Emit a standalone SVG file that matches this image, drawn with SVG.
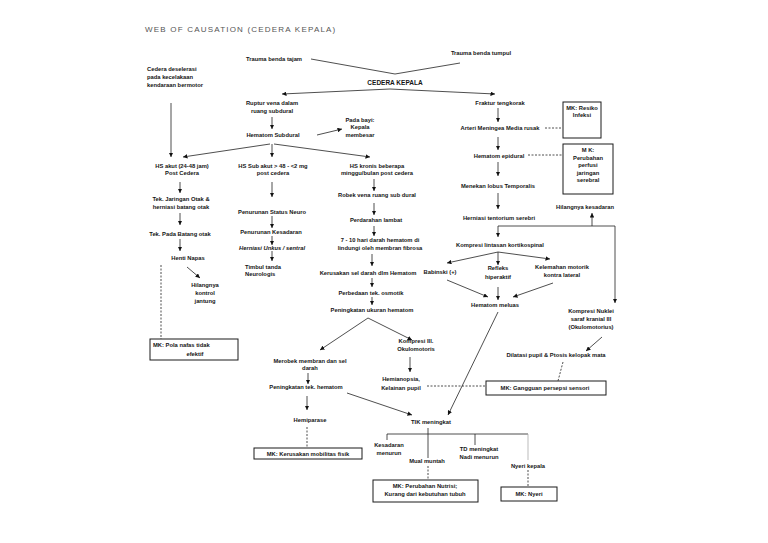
<svg xmlns="http://www.w3.org/2000/svg" width="768" height="543" viewBox="0 0 768 543">
<defs>
<marker id="ah" viewBox="0 0 6 6" refX="6" refY="3" markerWidth="4.5" markerHeight="4.5" markerUnits="userSpaceOnUse" orient="auto"><path d="M0,0 L6,3 L0,6 z" fill="#111"/></marker>
</defs>
<style>
text{font-family:"Liberation Sans",Arial,sans-serif;font-size:5.8px;font-weight:bold;fill:#151515;text-anchor:middle}
.title{font-size:8px;font-weight:normal;fill:#555;text-anchor:start;letter-spacing:1.2px}
.s{text-anchor:start}
.big{font-size:6.5px}
.it{font-style:italic}
.box{fill:#fff;stroke:#1a1a1a;stroke-width:1}
#connectors line,#connectors path,#connectors polyline{stroke:#222;stroke-width:0.8;fill:none}
#connectors .a{marker-end:url(#ah)}
#connectors .d{stroke-dasharray:2 1.5}
#connectors .g{stroke:#aaa}
</style>
<rect width="768" height="543" fill="#fff"/>
<text class="title" x="145" y="32">WEB OF CAUSATION (CEDERA KEPALA)</text>

<g id="connectors">
<polyline points="311,59 395,74 460,63"/>
<line class="a" x1="390" y1="89" x2="282" y2="94"/>
<line class="a" x1="390" y1="89" x2="495" y2="94"/>
<line class="a" x1="171" y1="103" x2="171" y2="157"/>
<line class="a" x1="272" y1="117" x2="272" y2="129"/>
<line class="a" x1="317" y1="135" x2="342" y2="129"/>
<line class="a" x1="270" y1="144" x2="183" y2="157"/>
<line class="a" x1="272" y1="144" x2="272" y2="157"/>
<line class="a" x1="274" y1="144" x2="370" y2="157"/>
<line class="a" x1="180" y1="182" x2="180" y2="193"/>
<line class="a" x1="180" y1="213" x2="180" y2="225"/>
<line class="a" x1="180" y1="239" x2="180" y2="251"/>
<line class="d" x1="161" y1="265" x2="161" y2="339"/>
<line class="a" x1="187" y1="267" x2="200" y2="278"/>
<line class="a" x1="272" y1="182" x2="272" y2="197"/>
<line class="a" x1="272" y1="216" x2="272" y2="228"/>
<line class="a" x1="272" y1="236" x2="272" y2="245"/>
<line class="a" x1="272" y1="251" x2="272" y2="261"/>
<line class="a" x1="374" y1="179" x2="374" y2="191"/>
<line class="a" x1="374" y1="203" x2="374" y2="215"/>
<line class="a" x1="374" y1="226" x2="374" y2="236"/>
<line class="a" x1="372" y1="254" x2="372" y2="266"/>
<line class="a" x1="372" y1="278" x2="372" y2="287"/>
<line class="a" x1="372" y1="297" x2="372" y2="305"/>
<line class="a" x1="368" y1="318" x2="320" y2="350"/>
<line class="a" x1="368" y1="318" x2="412" y2="340"/>
<line class="a" x1="308" y1="373" x2="308" y2="384"/>
<line class="a" x1="307" y1="396" x2="307" y2="410"/>
<line class="d" x1="307" y1="427" x2="307" y2="448"/>
<line class="a" x1="347" y1="393" x2="412" y2="415"/>
<line class="a" x1="410" y1="357" x2="410" y2="372"/>
<line class="d" x1="427" y1="386" x2="486" y2="386"/>
<line class="a" x1="498" y1="312" x2="448" y2="415"/>
<line class="a" x1="498" y1="108" x2="498" y2="122"/>
<line class="d" x1="545" y1="128" x2="562" y2="128"/>
<line class="a" x1="498" y1="137" x2="498" y2="150"/>
<line class="d" x1="528" y1="155" x2="562" y2="155"/>
<line class="a" x1="498" y1="162" x2="498" y2="176"/>
<line class="a" x1="498" y1="193" x2="498" y2="209"/>
<line class="a" x1="498" y1="226" x2="498" y2="237"/>
<path class="a" d="M498,226 L615,226 L615,303"/>
<line class="a" x1="592" y1="226" x2="592" y2="213"/>
<line class="a" x1="498" y1="252" x2="447" y2="263"/>
<line class="a" x1="498" y1="252" x2="498" y2="265"/>
<line class="a" x1="498" y1="252" x2="550" y2="259"/>
<line class="a" x1="447" y1="280" x2="488" y2="297"/>
<line class="a" x1="498" y1="287" x2="498" y2="300"/>
<line class="a" x1="553" y1="283" x2="513" y2="297"/>
<line class="a" x1="602" y1="337" x2="586" y2="351"/>
<line class="d" x1="563" y1="362" x2="558" y2="381"/>
<line x1="428" y1="428" x2="428" y2="458"/>
<line class="d" x1="428" y1="466" x2="428" y2="480"/>
<line x1="387" y1="434" x2="528" y2="434"/>
<line x1="387" y1="434" x2="387" y2="440"/>
<line x1="475" y1="434" x2="475" y2="445"/>
<line class="g" x1="528" y1="434" x2="528" y2="460"/>
<line class="d" x1="528" y1="470" x2="528" y2="487"/>
</g>

<g id="trauma-tajam"><text x="274" y="61">Trauma benda tajam</text></g>
<g id="trauma-tumpul"><text x="481" y="55">Trauma benda tumpul</text></g>
<g id="cedera-kepala"><text class="big" x="395" y="85">CEDERA KEPALA</text></g>
<g id="cedera-deselerasi"><text class="s" x="147" y="71">Cedera deselerasi</text><text class="s" x="147" y="79">pada kecelakaan</text><text class="s" x="147" y="87">kendaraan bermotor</text></g>
<g id="ruptur-vena"><text x="272" y="105">Ruptur vena dalam</text><text x="272" y="113">ruang subdural</text></g>
<g id="hematom-subdural"><text x="273" y="137">Hematom Subdural</text></g>
<g id="pada-bayi"><text x="360" y="122">Pada bayi:</text><text x="360" y="129">Kepala</text><text x="360" y="137">membesar</text></g>

<g id="hs-akut"><text x="182" y="168">HS akut (24-48 jam)</text><text x="182" y="175">Post Cedera</text></g>
<g id="tek-jaringan"><text x="181" y="201">Tek. Jaringan Otak &amp;</text><text x="181" y="209">herniasi batang otak</text></g>
<g id="tek-batang"><text x="180" y="236">Tek. Pada Batang otak</text></g>
<g id="henti-napas"><text x="188" y="260">Henti Napas</text></g>
<g id="hilangnya-kontrol"><text x="205" y="287">Hilangnya</text><text x="205" y="295">kontrol</text><text x="205" y="303">jantung</text></g>
<g id="mk-pola-nafas"><rect class="box" x="150" y="339" width="88" height="21"/><text class="s" x="153" y="347">MK: Pola nafas  tidak</text><text x="195" y="356">efektif</text></g>

<g id="hs-subakut"><text x="273" y="168">HS Sub akut &gt; 48 - &lt;2 mg</text><text x="273" y="175">post cedera</text></g>
<g id="penurunan-status"><text x="272" y="214">Penurunan Status Neuro</text></g>
<g id="penurunan-kesadaran"><text x="271" y="234">Penurunan Kesadaran</text></g>
<g id="herniasi-unkus"><text class="it" x="272" y="250">Herniasi Unkus / sentral</text></g>
<g id="timbul-tanda"><text class="s" x="245" y="269">Timbul tanda</text><text class="s" x="245" y="276">Neurologis</text></g>

<g id="hs-kronis"><text x="377" y="168">HS kronis beberapa</text><text x="377" y="175">minggu/bulan post cedera</text></g>
<g id="robek-vena"><text x="377" y="197">Robek vena ruang sub dural</text></g>
<g id="perdarahan-lambat"><text x="376" y="222">Perdarahan lambat</text></g>
<g id="tujuh-sepuluh"><text x="380" y="242">7 - 10 hari darah hematom di</text><text x="380" y="250">lindungi oleh membran fibrosa</text></g>
<g id="kerusakan-sel"><text x="368" y="275">Kerusakan sel darah dlm  Hematom</text></g>
<g id="perbedaan-tek"><text x="371" y="295">Perbedaan tek. osmotik</text></g>
<g id="peningkatan-ukuran"><text x="372" y="312">Peningkatan ukuran hematom</text></g>
<g id="merobek"><text x="310" y="363">Merobek membran dan sel</text><text x="310" y="370">darah</text></g>
<g id="peningkatan-tek"><text x="306" y="389">Peningkatan tek. hematom</text></g>
<g id="hemiparase"><text x="310" y="422">Hemiparase</text></g>
<g id="mk-mobilitas"><rect class="box" x="254" y="448" width="108" height="11"/><text x="308" y="456">MK: Kerusakan mobilitas fisik</text></g>
<g id="kompresi-iii"><text x="416" y="343">Kompresi III.</text><text x="416" y="351">Okulomotoris</text></g>
<g id="hemianopsia"><text x="401" y="381">Hemianopsia,</text><text x="401" y="390">Kelainan pupil</text></g>

<g id="fraktur"><text x="500" y="105">Fraktur tengkorak</text></g>
<g id="arteri"><text x="500" y="130">Arteri Meningea Media rusak</text></g>
<g id="mk-resiko"><rect class="box" x="563" y="102" width="38" height="36"/><text x="582" y="110">MK: Resiko</text><text x="582" y="117">Infeksi</text></g>
<g id="hematom-epidural"><text x="499" y="158">Hematom epidural</text></g>
<g id="mk-perfusi"><rect class="box" x="563" y="144" width="50" height="50"/><text x="588" y="152">M K:</text><text x="588" y="160">Perubahan</text><text x="588" y="167">perfusi</text><text x="588" y="175">jaringan</text><text x="588" y="182">serebral</text></g>
<g id="menekan-lobus"><text x="498" y="188">Menekan lobus  Temporalis</text></g>
<g id="herniasi-tentorium"><text x="499" y="220">Herniasi tentorium serebri</text></g>
<g id="hilangnya-kesadaran"><text x="585" y="209">Hilangnya kesadaran</text></g>
<g id="kompresi-lintasan"><text x="500" y="247">Kompresi lintasan kortikospinal</text></g>
<g id="babinski"><text x="440" y="274">Babinski (+)</text></g>
<g id="refleks"><text x="498" y="270">Refleks</text><text x="498" y="279">hiperaktif</text></g>
<g id="kelemahan"><text x="562" y="269">Kelemahan motorik</text><text x="562" y="277">kontra lateral</text></g>
<g id="hematom-meluas"><text x="495" y="307">Hematom meluas</text></g>
<g id="kompresi-nuklei"><text x="591" y="313">Kompresi Nuklei</text><text x="591" y="321">saraf kranial III</text><text x="591" y="329">(Okulomotorius)</text></g>
<g id="dilatasi"><text x="556" y="357">Dilatasi pupil &amp; Ptosis kelopak mata</text></g>
<g id="mk-persepsi"><rect class="box" x="486" y="381" width="120" height="14"/><text x="545" y="390">MK: Gangguan persepsi sensori</text></g>

<g id="tik"><text x="431" y="424">TIK meningkat</text></g>
<g id="kesadaran-menurun"><text x="389" y="447">Kesadaran</text><text x="389" y="455">menurun</text></g>
<g id="mual-muntah"><text x="427" y="463">Mual muntah</text></g>
<g id="td-meningkat"><text x="479" y="451">TD meningkat</text><text x="479" y="459">Nadi menurun</text></g>
<g id="nyeri-kepala"><text x="528" y="468">Nyeri kepala</text></g>
<g id="mk-nutrisi"><rect class="box" x="373" y="480" width="105" height="22"/><text x="425" y="488">MK: Perubahan Nutrisi;</text><text x="425" y="496">Kurang dari kebutuhan tubuh</text></g>
<g id="mk-nyeri"><rect class="box" x="501" y="487" width="56" height="14"/><text x="529" y="496">MK: Nyeri</text></g>
</svg>
